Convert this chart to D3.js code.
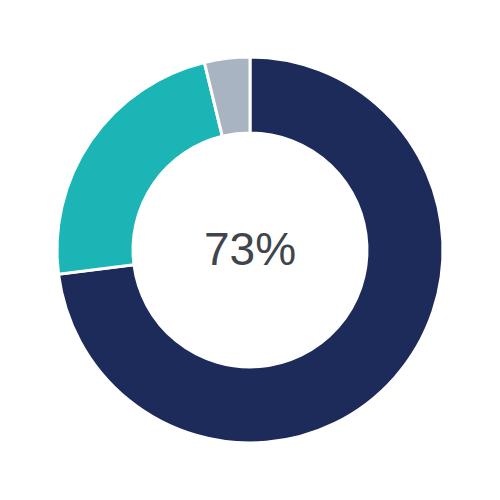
<!DOCTYPE html>
<html lang="en">
<head>
  <meta charset="UTF-8">
  <title>donut</title>
  <script src="https://cdn.jsdelivr.net/npm/d3@7"></script>
  <style>
    body { margin: 0; background: #fff; }
  </style>
</head>
<body>
  <svg width="500" height="500" id="mainsvg"></svg>
  <script>
    const categories = ['A', 'B', 'C'];
    const values = [73, 23.2, 3.8];
    const colors = ['#1c2b5a', '#1bb5b5', '#a9b4c2'];
    const centerLabel = '73%';

    const svg = d3.select('#mainsvg')
    const width = +svg.attr('width')
    const height = +svg.attr('height')
    const outerR = 193
    const innerR = 117

    const g = svg.append('g')
      .attr('transform', `translate(${width / 2},${height / 2})`)

    const pie = d3.pie().sort(null).value(d => d.value)
    const arc = d3.arc().innerRadius(innerR).outerRadius(outerR)

    const data = categories.map((c, i) => ({name: c, value: values[i], color: colors[i]}))

    g.selectAll('path')
      .data(pie(data))
      .join('path')
      .attr('d', arc)
      .attr('fill', d => d.data.color)
      .attr('stroke', '#fff')
      .attr('stroke-width', 3)

    g.append('text')
      .text(centerLabel)
      .attr('text-anchor', 'middle')
      .attr('y', 15)
      .attr('font-family', 'Liberation Sans, Arial, sans-serif')
      .attr('font-size', 46)
      .attr('fill', '#40444c')
  </script>
</body>
</html>
